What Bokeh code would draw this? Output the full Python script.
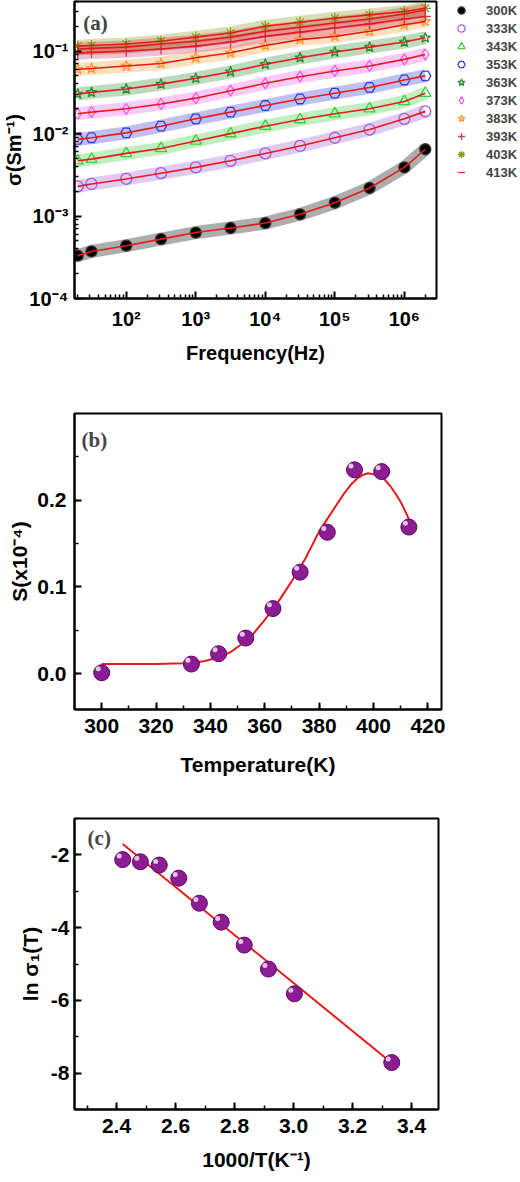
import math
from bokeh.plotting import figure
from bokeh.models import (Legend, LegendItem, FixedTicker, SingleIntervalTicker, Label,
                          Range1d, BasicTickFormatter, CustomJSTickFormatter, ColumnDataSource)
from bokeh.transform import dodge
from bokeh.layouts import column
from bokeh.embed import file_html
from bokeh.resources import INLINE

FONT = "Liberation Sans"
SERIF = "Liberation Serif"
FIT_RED = "#E41A1C"

# ---------------- Panel (a): conductivity vs frequency ----------------
freq = [20, 31.6, 100, 316, 1000, 3160, 10000, 31600, 100000, 316000, 1000000, 2000000]
sig_300 = [3.31e-4, 3.72e-4, 4.37e-4, 5.25e-4, 6.31e-4, 7.16e-4, 8.22e-4, 1.05e-3, 1.45e-3, 2.19e-3, 3.89e-3, 6.46e-3]
sig_333 = [2.29e-3, 2.45e-3, 2.82e-3, 3.31e-3, 3.89e-3, 4.68e-3, 5.75e-3, 7.08e-3, 8.91e-3, 1.12e-2, 1.51e-2, 1.86e-2]
sig_343 = [4.68e-3, 4.90e-3, 5.75e-3, 6.61e-3, 8.13e-3, 1.00e-2, 1.23e-2, 1.48e-2, 1.74e-2, 2.00e-2, 2.45e-2, 3.09e-2]
sig_353 = [8.51e-3, 8.91e-3, 1.02e-2, 1.23e-2, 1.51e-2, 1.82e-2, 2.19e-2, 2.63e-2, 3.09e-2, 3.63e-2, 4.47e-2, 5.01e-2]
sig_363 = [3.02e-2, 3.16e-2, 3.47e-2, 3.98e-2, 4.68e-2, 5.62e-2, 6.92e-2, 8.32e-2, 9.77e-2, 0.112, 0.129, 0.145]
sig_373 = [1.74e-2, 1.82e-2, 2.00e-2, 2.29e-2, 2.69e-2, 3.31e-2, 4.07e-2, 4.90e-2, 5.75e-2, 6.61e-2, 7.94e-2, 9.12e-2]
sig_383 = [6.03e-2, 6.17e-2, 6.61e-2, 7.08e-2, 8.32e-2, 9.55e-2, 0.117, 0.138, 0.151, 0.174, 0.209, 0.229]
sig_393 = [9.44e-2, 9.66e-2, 0.100, 0.106, 0.115, 0.129, 0.151, 0.170, 0.191, 0.214, 0.245, 0.263]
sig_403 = [0.115, 0.117, 0.122, 0.132, 0.148, 0.166, 0.200, 0.224, 0.251, 0.275, 0.302, 0.331]
sig_413 = [0.106, 0.108, 0.112, 0.122, 0.132, 0.148, 0.174, 0.195, 0.219, 0.245, 0.282, 0.316]

series_names = ["300K", "333K", "343K", "353K", "363K", "373K", "383K", "393K", "403K", "413K"]
series_values = [sig_300, sig_333, sig_343, sig_353, sig_363, sig_373, sig_383, sig_393, sig_403, sig_413]
series_colors = ["#000000", "#A15BD8", "#3CCF3C", "#3B3BD0", "#2E8B2E", "#EE5BEE",
                 "#FF9A2E", "#C0406E", "#8A9A1A", "#E03030"]
series_markers = ["circle", "circle", "triangle", "hex", "star", "diamond",
                  "star", "cross", "asterisk", "dash"]

xA_ticks = [1e2, 1e3, 1e4, 1e5, 1e6]
xA_labels = ["10²", "10³", "10⁴", "10⁵", "10⁶"]
yA_ticks = [1e-4, 1e-3, 1e-2, 1e-1]
yA_labels = ["10⁻⁴", "10⁻³", "10⁻²", "10⁻¹"]

# ---------------- Panel (b): S vs temperature ----------------
temps = [300, 333, 343, 353, 363, 373, 383, 393, 403, 413]
S_vals = [0.001, 0.011, 0.023, 0.041, 0.075, 0.117, 0.163, 0.235, 0.233, 0.169]
fit_T = [300, 310, 320, 330, 335, 338, 342, 345, 348, 351, 355, 360, 365, 370, 375, 380,
         385, 389, 392, 394, 396, 398, 400, 402, 404, 406, 408, 410, 412, 413]
fit_S = [0.011, 0.011, 0.011, 0.012, 0.013, 0.0145, 0.018, 0.021, 0.026, 0.033, 0.043, 0.062,
         0.083, 0.107, 0.133, 0.164, 0.188, 0.207, 0.219, 0.225, 0.229, 0.231, 0.230, 0.228,
         0.224, 0.217, 0.208, 0.198, 0.185, 0.178]

# ---------------- Panel (c): ln sigma vs 1000/T ----------------
inv_T = [2.421, 2.481, 2.545, 2.611, 2.681, 2.755, 2.833, 2.915, 3.003, 3.333]
ln_sigma = [-2.13, -2.19, -2.28, -2.64, -3.33, -3.85, -4.48, -5.14, -5.82, -7.71]
fitc_x = [2.421, 3.333]
fitc_y = [-1.70, -7.72]

SPHERE_FILL = "#8B1C93"
SPHERE_LINE = "#5A0A60"

FMT1 = CustomJSTickFormatter(code="return tick.toFixed(1);")
FMT0 = CustomJSTickFormatter(code="return tick.toFixed(0);")


def style(p, tick_size, label_size):
    for ax in list(p.xaxis) + list(p.yaxis):
        ax.axis_line_width = 2
        ax.axis_line_color = "black"
        ax.major_tick_in = 7
        ax.major_tick_out = 0
        ax.minor_tick_in = 4
        ax.minor_tick_out = 0
        ax.major_tick_line_width = 2
        ax.minor_tick_line_width = 1.5
        ax.major_label_text_font = FONT
        ax.major_label_text_font_style = "bold"
        ax.major_label_text_font_size = tick_size
        ax.major_label_text_color = "black"
        ax.axis_label_text_font = FONT
        ax.axis_label_text_font_style = "bold"
        ax.axis_label_text_font_size = label_size
        ax.axis_label_text_color = "black"
    p.outline_line_color = "black"
    p.outline_line_width = 2
    p.outline_line_alpha = 1
    p.xgrid.visible = False
    p.ygrid.visible = False
    p.background_fill_color = "white"
    p.border_fill_color = "white"


# ---- figure A ----
pA = figure(frame_width=362, frame_height=297, x_axis_type="log", y_axis_type="log",
            x_range=Range1d(18, 2.9e6), y_range=Range1d(1e-4, 0.4),
            output_backend="svg", toolbar_location=None,
            min_border_left=73, min_border_right=0, min_border_top=1, min_border_bottom=66)
pA.title.visible = False
style(pA, "20px", "20px")
pA.xaxis.major_label_standoff = 9
pA.xaxis.axis_label_standoff = 9
pA.yaxis.major_label_standoff = 6
pA.yaxis.axis_label_standoff = 1
xA_minor = [m * 10.0 ** e for e in range(1, 7) for m in range(2, 10)]
yA_minor = [m * 10.0 ** e for e in range(-4, 0) for m in range(2, 10)]
pA.xaxis.ticker = FixedTicker(ticks=xA_ticks, minor_ticks=xA_minor)
pA.yaxis.ticker = FixedTicker(ticks=yA_ticks, minor_ticks=yA_minor)
pA.xaxis.formatter = BasicTickFormatter()
pA.yaxis.formatter = BasicTickFormatter()
pA.xaxis.major_label_overrides = dict(zip(xA_ticks, xA_labels))
pA.yaxis.major_label_overrides = dict(zip(yA_ticks, yA_labels))
pA.xaxis.axis_label = "Frequency(Hz)"
pA.yaxis.axis_label = "σ(Sm⁻¹)"

for vals, col in zip(series_values, series_colors):
    pA.line(freq, vals, line_width=13, line_color=col, line_alpha=0.32)

items = []
for name, vals, col, mk in zip(series_names, series_values, series_colors, series_markers):
    filled = (name == "300K")
    ang = math.pi / 2 if mk == "dash" else 0.0
    r = pA.scatter(freq, vals, marker=mk, size=11 if mk != "dash" else 12,
                   line_color=col if not filled else "#333333",
                   fill_color=col if filled else None,
                   line_width=1.3, angle=ang)
    items.append(LegendItem(label=name, renderers=[r]))

for vals in series_values:
    pA.line(freq, vals, line_width=1.6, line_color=FIT_RED)

legend = Legend(items=items, location="top_left", orientation="vertical",
                glyph_width=50, glyph_height=18, label_height=18, spacing=0,
                padding=0, margin=0, border_line_alpha=0, background_fill_alpha=0,
                label_text_font=FONT, label_text_font_style="bold",
                label_text_font_size="13px", label_standoff=0)
pA.add_layout(legend, "right")
pA.add_layout(Label(x=24, y=0.22, text="(a)", text_font=SERIF, text_font_style="bold",
                    text_font_size="21px", text_baseline="middle", text_align="left"))

# ---- figure B ----
pB = figure(frame_width=367, frame_height=296, x_range=Range1d(290, 425), y_range=Range1d(-0.0414, 0.3),
            output_backend="svg", toolbar_location=None,
            min_border_left=73, min_border_right=20, min_border_top=47, min_border_bottom=77)
pB.title.visible = False
style(pB, "21px", "21px")
pB.xaxis.major_label_standoff = 9
pB.xaxis.axis_label_standoff = 17
pB.yaxis.major_label_standoff = 8
pB.yaxis.axis_label_standoff = 3
pB.xaxis.ticker = SingleIntervalTicker(interval=20, num_minor_ticks=2)
pB.yaxis.ticker = SingleIntervalTicker(interval=0.1, num_minor_ticks=2)
pB.xaxis.formatter = FMT0
pB.yaxis.formatter = FMT1
pB.xaxis.axis_label = "Temperature(K)"
pB.yaxis.axis_label = "S(x10⁻⁴)"
pB.line(fit_T, fit_S, line_width=2, line_color=FIT_RED)
srcB = ColumnDataSource(dict(x=temps, y=S_vals))
pB.scatter("x", "y", source=srcB, marker="circle", size=16, fill_color=SPHERE_FILL,
           line_color=SPHERE_LINE, line_width=1)
pB.scatter(dodge("x", -1.3, range=pB.x_range), dodge("y", 0.0045, range=pB.y_range),
           source=srcB, marker="circle", size=5, fill_color="white", fill_alpha=0.75,
           line_alpha=0)
pB.add_layout(Label(x=292.6, y=0.270, text="(b)", text_font=SERIF, text_font_style="bold",
                    text_font_size="21px", text_baseline="middle", text_align="left"))

# ---- figure C ----
pC = figure(frame_width=364, frame_height=291, x_range=Range1d(2.2576, 3.4915), y_range=Range1d(-9, -1),
            output_backend="svg", toolbar_location=None,
            min_border_left=63, min_border_right=20, min_border_top=32, min_border_bottom=68)
pC.title.visible = False
style(pC, "21px", "21px")
pC.xaxis.major_label_standoff = 9
pC.xaxis.axis_label_standoff = 12
pC.yaxis.major_label_standoff = 5
pC.yaxis.axis_label_standoff = 6
pC.xaxis.ticker = SingleIntervalTicker(interval=0.2, num_minor_ticks=2)
pC.yaxis.ticker = SingleIntervalTicker(interval=2, num_minor_ticks=2)
pC.xaxis.formatter = FMT1
pC.yaxis.formatter = FMT0
pC.xaxis.axis_label = "1000/T(K⁻¹)"
pC.yaxis.axis_label = "ln σ₁(T)"
pC.line(fitc_x, fitc_y, line_width=2, line_color=FIT_RED)
srcC = ColumnDataSource(dict(x=inv_T, y=ln_sigma))
pC.scatter("x", "y", source=srcC, marker="circle", size=16, fill_color=SPHERE_FILL,
           line_color=SPHERE_LINE, line_width=1)
pC.scatter(dodge("x", -0.012, range=pC.x_range), dodge("y", 0.1, range=pC.y_range),
           source=srcC, marker="circle", size=5, fill_color="white", fill_alpha=0.75,
           line_alpha=0)
pC.add_layout(Label(x=2.302, y=-1.54, text="(c)", text_font=SERIF, text_font_style="bold",
                    text_font_size="21px", text_baseline="middle", text_align="left"))

layout = column(pA, pB, pC, spacing=0)
open("out.html", "w").write(file_html(layout, INLINE))
